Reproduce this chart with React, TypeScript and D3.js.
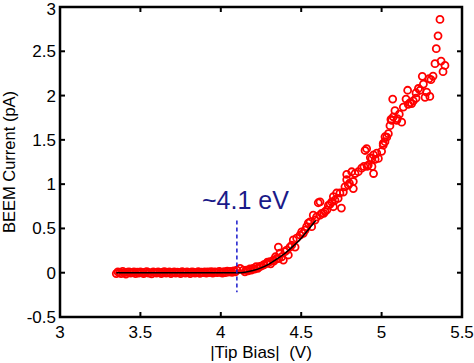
import React from "react";
import * as d3 from "d3";

// flat part below threshold
const biasFlat = [
  3.35, 3.36, 3.37, 3.38, 3.39, 3.4, 3.41, 3.42, 3.43, 3.44, 3.45, 3.46, 3.47, 3.48, 3.49,
  3.5, 3.51, 3.52, 3.53, 3.54, 3.55, 3.56, 3.57, 3.58, 3.59, 3.6, 3.61, 3.62, 3.63, 3.64,
  3.65, 3.66, 3.67, 3.68, 3.69, 3.7, 3.71, 3.72, 3.73, 3.74, 3.75, 3.76, 3.77, 3.78, 3.79,
  3.8, 3.81, 3.82, 3.83, 3.84, 3.85, 3.86, 3.87, 3.88, 3.89, 3.9, 3.91, 3.92, 3.93, 3.94,
  3.95, 3.96, 3.97, 3.98, 3.99, 4.0, 4.01, 4.02, 4.03, 4.04, 4.05, 4.06, 4.07, 4.08, 4.09,
];
const currentFlat = [
  -0.01, 0.01, 0.0, -0.01, 0.015, 0.0, -0.015, 0.005, 0.01, -0.005, 0.0, 0.01, -0.01, 0.005, -0.005,
  0.01, 0.0, -0.01, 0.005, 0.012, -0.005, 0.0, -0.012, 0.008, 0.0, -0.005, 0.01, 0.0, -0.01, 0.005,
  0.012, -0.005, 0.0, 0.008, -0.01, 0.0, 0.01, -0.005, 0.005, 0.0, -0.01, 0.012, 0.0, -0.005, 0.008,
  0.0, -0.01, 0.01, 0.005, -0.005, 0.0, 0.012, -0.008, 0.005, 0.0, 0.01, -0.005, 0.008, 0.0, 0.012,
  -0.005, 0.01, 0.005, 0.0, 0.015, 0.005, -0.005, 0.012, 0.0, 0.018, 0.008, 0.015, 0.005, 0.02, 0.01,
];

// rising part
const biasRise = [
  4.1, 4.12, 4.14, 4.15, 4.16, 4.17, 4.18, 4.19, 4.2, 4.21, 4.22, 4.23, 4.24, 4.25, 4.265,
  4.27, 4.286, 4.29, 4.306, 4.31, 4.327, 4.33, 4.34, 4.348, 4.358, 4.36, 4.368, 4.379, 4.389, 4.399,
  4.41, 4.42, 4.43, 4.441, 4.451, 4.462, 4.472, 4.493, 4.503, 4.513, 4.524, 4.534, 4.544, 4.555, 4.565,
  4.575, 4.586, 4.596, 4.606, 4.617, 4.617, 4.627, 4.64, 4.648, 4.66, 4.669, 4.68, 4.69, 4.7, 4.7,
  4.71, 4.72, 4.73, 4.741, 4.75, 4.762, 4.772, 4.783, 4.783, 4.793, 4.8, 4.814, 4.824, 4.824, 4.835,
  4.855, 4.876, 4.89, 4.897, 4.907, 4.91, 4.917, 4.93, 4.94, 4.94, 4.95, 4.95, 4.96, 4.97, 4.98,
  5.0, 5.01, 5.01, 5.021, 5.021, 5.032, 5.042, 5.052, 5.058, 5.063, 5.069, 5.073, 5.083, 5.094, 5.098,
  5.11, 5.125, 5.135, 5.152, 5.162, 5.166, 5.177, 5.187, 5.197, 5.214, 5.214, 5.229, 5.239, 5.253, 5.26,
  5.27, 5.28, 5.295, 5.3, 5.307, 5.32, 5.332, 5.34, 5.351, 5.363, 5.37, 5.382, 5.394,
];
const currentRise = [
  0.03, 0.05, 0.03, 0.01, 0.03, 0.02, 0.042, 0.03, 0.05, 0.04, 0.068, 0.05, 0.068, 0.075, 0.087,
  0.09, 0.106, 0.12, 0.124, 0.1, 0.143, 0.13, 0.18, 0.163, 0.29, 0.16, 0.22, 0.18, 0.143, 0.237,
  0.256, 0.2, 0.29, 0.31, 0.37, 0.29, 0.39, 0.425, 0.46, 0.445, 0.48, 0.52, 0.56, 0.575, 0.52,
  0.65, 0.595, 0.63, 0.79, 0.65, 0.8, 0.67, 0.67, 0.69, 0.71, 0.76, 0.775, 0.8, 0.745, 0.86,
  0.82, 0.9, 0.84, 0.9, 0.73, 0.91, 0.97, 1.05, 1.11, 0.99, 1.01, 1.14, 1.03, 0.95, 1.12,
  1.14, 1.18, 1.2, 1.38, 1.4, 1.2, 1.215, 1.3, 1.2, 1.29, 1.33, 1.12, 1.28, 1.35, 1.29,
  1.37, 1.44, 1.46, 1.48, 1.535, 1.53, 1.57, 1.66, 1.73, 1.72, 1.96, 1.76, 1.83, 1.72, 1.74,
  1.79, 1.7, 1.87, 1.96, 2.06, 1.9, 1.92, 1.91, 1.94, 1.97, 2.03, 2.08, 2.06, 2.217, 2.13,
  1.98, 2.04, 2.19, 1.99, 2.18, 2.22, 2.36, 2.53, 2.675, 2.86, 2.39, 2.27, 2.34,
];

// fitted curve
const fitBias = [3.35, 4.1, 4.15, 4.2, 4.25, 4.3, 4.35, 4.4, 4.45, 4.5, 4.55, 4.59];
const fitCurrent = [0, 0, 0.006, 0.025, 0.055, 0.098, 0.155, 0.22, 0.3, 0.39, 0.5, 0.59];

const xTicks = [3, 3.5, 4, 4.5, 5, 5.5];
const yTicks = [-0.5, 0, 0.5, 1, 1.5, 2, 2.5, 3];
const threshold = 4.1;

const W = 474;
const H = 363;
const m = { left: 60, top: 7, right: 462, bottom: 317 };
const font = "'Liberation Sans', Arial, sans-serif";

export default function App() {
  const x = d3.scaleLinear().domain([3, 5.5]).range([m.left, m.right]);
  const y = d3.scaleLinear().domain([-0.5, 3]).range([m.bottom, m.top]);

  const points = biasFlat
    .map((b, i) => [b, currentFlat[i]])
    .concat(biasRise.map((b, i) => [b, currentRise[i]]));

  const line = d3
    .line<number>()
    .x((d) => x(d))
    .y((d, i) => y(fitCurrent[i]))
    .curve(d3.curveMonotoneX);

  return (
    <svg
      width={W}
      height={H}
      style={{ position: "absolute", left: 0, top: 0, background: "#fff" }}
      fontFamily={font}
    >
      <rect width={W} height={H} fill="#fff" />
      {points.map(([b, c], i) => (
        <circle key={i} cx={x(b)} cy={y(c)} r={3.5} fill="none" stroke="#f00" strokeWidth={1.8} />
      ))}
      <path d={line(fitBias) || ""} fill="none" stroke="#000" strokeWidth={1.5} />
      <line
        x1={x(threshold)}
        x2={x(threshold)}
        y1={y(0.59)}
        y2={y(-0.22)}
        stroke="#1a1acc"
        strokeWidth={1.5}
        strokeDasharray="4,3"
      />
      <text x={202} y={209} fontSize={25} fill="#1a1a88">
        ~4.1 eV
      </text>

      {/* frame */}
      <rect
        x={m.left}
        y={m.top}
        width={m.right - m.left}
        height={m.bottom - m.top}
        fill="none"
        stroke="#000"
        strokeWidth={2.5}
      />
      {xTicks.map((t) => (
        <g key={"x" + t}>
          <line x1={x(t)} x2={x(t)} y1={m.bottom} y2={m.bottom - 5} stroke="#000" strokeWidth={2} />
          <line x1={x(t)} x2={x(t)} y1={m.top} y2={m.top + 5} stroke="#000" strokeWidth={2} />
          <text x={x(t)} y={338} fontSize={17} textAnchor="middle">
            {String(t)}
          </text>
        </g>
      ))}
      {yTicks.map((t) => (
        <g key={"y" + t}>
          <line x1={m.left} x2={m.left + 5} y1={y(t)} y2={y(t)} stroke="#000" strokeWidth={2} />
          <line x1={m.right} x2={m.right - 5} y1={y(t)} y2={y(t)} stroke="#000" strokeWidth={2} />
          <text x={56} y={Math.max(y(t), 9)} dy="0.35em" fontSize={17} textAnchor="end">
            {String(t)}
          </text>
        </g>
      ))}
      <text x={(m.left + m.right) / 2} y={358} fontSize={17} textAnchor="middle" xmlSpace="preserve">
        |Tip Bias|  (V)
      </text>
      <text
        transform={`translate(15,${(m.top + m.bottom) / 2}) rotate(-90)`}
        fontSize={16.5}
        textAnchor="middle"
      >
        BEEM Current (pA)
      </text>
    </svg>
  );
}
